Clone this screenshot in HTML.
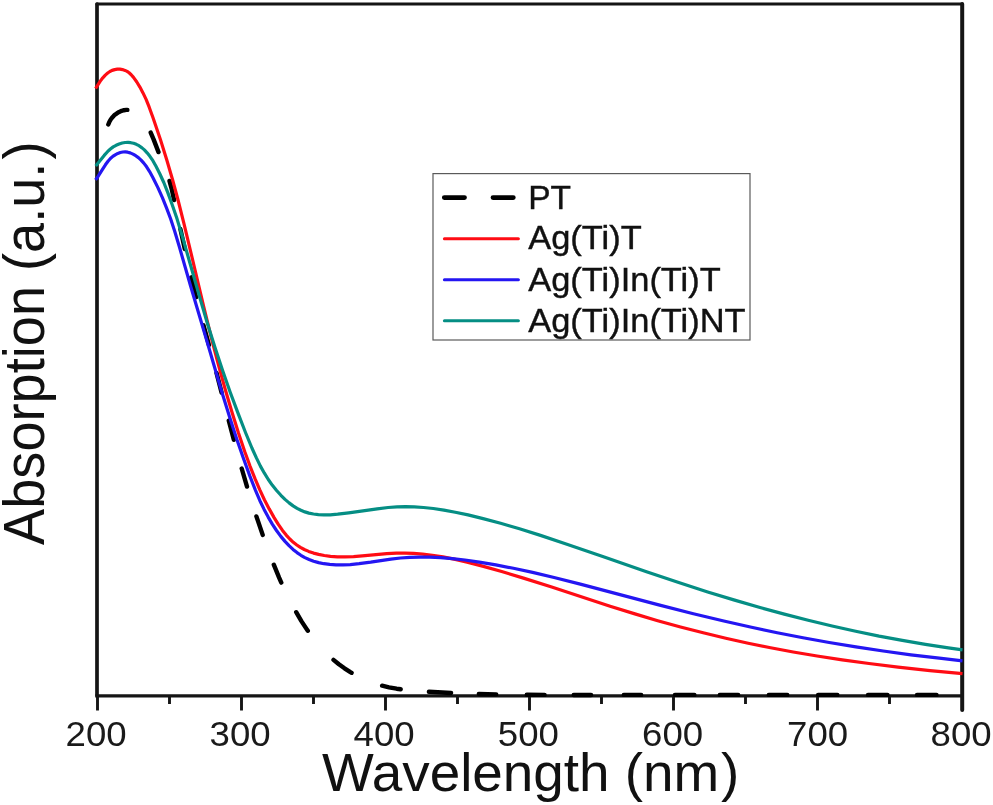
<!DOCTYPE html>
<html lang="en"><head><meta charset="utf-8"><title>UV-vis absorption spectra</title>
<style>html,body{margin:0;padding:0;background:#fff}body{width:993px;height:805px;overflow:hidden}svg{display:block;filter:blur(0.65px)}</style></head>
<body>
<svg width="993" height="805" viewBox="0 0 993 805">
<rect width="993" height="805" fill="#fff"/>
<path d="M97.0,695.8 L97.0,4" fill="none" stroke="#151515" stroke-width="3.7" stroke-linecap="round"/>
<path d="M97.0,4 L962,4" fill="none" stroke="#151515" stroke-width="3.1" stroke-linecap="round"/>
<path d="M962.2,4 L962.2,710" fill="none" stroke="#151515" stroke-width="4" stroke-linecap="round"/>
<path d="M95.4,695.8 L962,695.8" fill="none" stroke="#151515" stroke-width="3.2"/>
<path d="M97.5,695.8 V710.5 M169.5,695.8 V704 M241.5,695.8 V710.5 M313.5,695.8 V704 M385.5,695.8 V710.5 M457.5,695.8 V704 M529.5,695.8 V710.5 M601.5,695.8 V704 M673.5,695.8 V710.5 M745.5,695.8 V704 M817.5,695.8 V710.5 M889.5,695.8 V704" stroke="#151515" stroke-width="2.9" fill="none"/>
<path d="M108.3,124.5 L109.3,122.0 L110.7,119.5 L112.5,117.2 L114.5,115.1 L116.8,113.4 L119.2,111.9 L121.7,110.8 L124.0,110.2 L126.4,109.9 L127.4,109.9 M150.7,132.6 L153.6,139.4 L158.5,152.1 M169.5,180.9 L171.6,188.6 L174.1,200.1 M180.4,229.1 L184.8,249.0 M191.3,277.3 L196.1,297.2 M203.5,325.3 L208.9,344.9 M216.5,372.9 L221.6,392.6 M228.8,420.6 L233.8,439.8 M241.7,468.5 L247.0,486.6 M256.4,516.4 L262.7,534.9 M273.8,564.7 L279.1,577.6 L281.3,582.6 M296.2,612.2 L301.4,621.1 L306.5,628.9 L307.8,630.8 M333.5,659.9 L338.9,664.3 L344.5,668.3 L350.4,672.1 L351.6,672.8 M382.1,685.7 L389.0,687.3 L396.6,688.7 L400.7,689.3 M428.9,691.8 L451.1,693.0 M478.8,694.0 L496.2,694.4 M526.8,694.8 L544.6,694.9 M573.7,695.0 L591.1,695.0 M623.8,694.9 L641.2,694.9 M674.9,694.9 L694.4,694.9 M719.8,694.9 L738.2,694.9 M768.8,694.9 L787.3,694.9 M818.1,694.9 L837.4,694.9 M868.0,694.9 L887.5,694.9 M917.0,694.9 L936.5,694.9" fill="none" stroke="#000" stroke-width="4.4" stroke-linecap="round" stroke-linejoin="round"/>
<path d="M95.6,88.5 L100.1,81.4 L102.8,77.8 L105.3,75.1 L107.7,73.0 L109.9,71.5 L112.1,70.4 L114.7,69.6 L117.3,69.2 L119.9,69.2 L122.5,69.6 L125.0,70.4 L127.1,71.4 L129.1,72.8 L131.2,74.7 L133.5,77.4 L136.8,82.0 L139.9,87.1 L143.0,92.9 L146.1,99.4 L149.2,107.2 L153.2,118.2 L160.4,139.6 L166.8,160.0 L172.5,179.5 L177.9,199.5 L183.9,223.4 L192.5,259.3 L203.7,306.7 L211.6,338.8 L218.7,365.8 L225.4,390.0 L232.0,412.2 L238.4,432.7 L244.8,451.7 L250.1,466.3 L255.0,478.7 L259.7,489.6 L264.4,499.7 L269.2,508.9 L274.1,517.6 L278.5,524.7 L282.5,530.4 L286.2,535.1 L289.8,539.0 L293.3,542.3 L296.8,545.0 L300.4,547.4 L304.3,549.5 L308.7,551.4 L313.5,553.1 L318.6,554.4 L324.3,555.5 L330.5,556.3 L337.4,556.8 L344.9,556.9 L353.6,556.6 L365.1,555.7 L386.8,553.7 L396.4,553.2 L404.7,553.1 L413.5,553.4 L422.6,554.1 L432.3,555.3 L442.9,556.9 L454.2,559.1 L467.1,562.1 L482.5,566.1 L501.7,571.5 L523.5,578.1 L551.7,587.1 L610.1,606.2 L634.9,613.9 L657.7,620.7 L680.5,627.0 L703.2,632.8 L725.8,638.3 L748.2,643.3 L770.6,647.8 L793.2,652.0 L817.1,656.0 L842.2,659.9 L869.0,663.5 L898.0,667.1 L930.0,670.6 L962.5,673.7" fill="none" stroke="#ff0c14" stroke-width="3.2" stroke-linejoin="round"/>
<path d="M95.5,179.9 L97.9,176.7 L101.7,170.6 L105.4,164.8 L108.0,161.2 L110.4,158.5 L112.8,156.4 L115.2,154.8 L117.8,153.4 L120.3,152.5 L122.8,152.0 L125.2,151.9 L127.6,152.2 L130.2,152.9 L133.0,154.1 L135.7,155.7 L138.4,157.6 L141.1,160.1 L143.8,163.1 L146.6,166.8 L149.6,171.6 L153.1,178.0 L157.9,187.6 L162.4,197.6 L166.5,207.9 L170.6,218.8 L174.7,231.3 L179.5,247.3 L190.8,286.8 L205.8,337.3 L221.3,390.2 L229.6,417.0 L236.7,439.0 L243.4,458.3 L249.8,475.9 L255.5,490.3 L259.9,500.7 L264.1,509.4 L268.2,517.1 L272.3,524.1 L276.5,530.5 L280.8,536.4 L285.0,541.4 L289.0,545.7 L293.0,549.4 L297.0,552.6 L300.9,555.3 L304.9,557.6 L309.1,559.5 L313.6,561.2 L318.6,562.6 L323.9,563.7 L329.7,564.4 L336.0,564.9 L342.9,564.9 L350.3,564.6 L359.1,563.7 L370.7,562.2 L390.9,559.1 L400.5,558.0 L409.8,557.4 L419.5,557.1 L429.7,557.1 L440.6,557.6 L452.2,558.6 L465.0,560.0 L479.3,562.1 L495.8,564.9 L513.4,568.3 L532.6,572.4 L554.1,577.5 L580.3,584.1 L658.7,604.9 L693.4,613.7 L723.8,621.0 L751.5,627.3 L777.2,632.7 L803.0,637.8 L829.2,642.5 L855.9,646.9 L883.2,651.0 L910.9,654.8 L939.3,658.2 L962.5,660.8" fill="none" stroke="#2416f2" stroke-width="3.2" stroke-linejoin="round"/>
<path d="M95.7,165.9 L104.2,155.4 L107.5,151.7 L110.4,149.0 L113.2,146.9 L116.1,145.3 L119.1,144.0 L122.2,143.0 L125.1,142.5 L128.0,142.4 L130.8,142.7 L133.6,143.3 L136.3,144.3 L139.0,145.7 L141.7,147.6 L144.4,149.9 L147.1,152.8 L149.9,156.3 L152.9,160.7 L156.0,166.3 L159.9,174.0 L163.8,182.5 L167.8,192.6 L172.3,205.0 L177.1,219.1 L182.3,236.2 L189.5,261.5 L199.3,295.8 L207.2,322.7 L215.0,347.4 L222.6,370.5 L230.2,392.2 L237.9,412.9 L245.5,432.5 L251.9,448.0 L256.4,457.9 L260.4,466.1 L264.4,473.2 L268.3,479.5 L272.4,485.3 L276.6,490.5 L280.9,495.3 L285.0,499.4 L289.1,502.9 L293.1,505.9 L297.1,508.4 L300.9,510.3 L304.9,511.9 L308.9,513.1 L313.5,514.0 L318.4,514.6 L323.9,514.9 L330.2,514.8 L337.7,514.2 L348.7,512.8 L377.2,508.8 L388.1,507.5 L397.0,506.9 L405.5,506.7 L414.3,506.9 L423.5,507.5 L433.3,508.5 L443.9,510.1 L455.3,512.2 L468.0,514.9 L483.1,518.6 L500.6,523.3 L519.5,528.8 L540.5,535.4 L565.4,543.7 L604.2,557.1 L646.5,571.8 L678.7,582.6 L707.7,591.9 L734.6,600.1 L760.0,607.5 L784.3,614.1 L808.2,620.3 L832.1,626.0 L855.7,631.2 L879.1,636.1 L902.3,640.4 L925.4,644.3 L948.4,647.9 L962.5,649.8" fill="none" stroke="#058e84" stroke-width="3.2" stroke-linejoin="round"/>
<text transform="translate(96.1,746.4) scale(1.04,1)" font-family="Liberation Sans, Arial, Helvetica, sans-serif" font-size="35.2" text-anchor="middle" fill="#1a1a1a">200</text>
<text transform="translate(240.1,746.4) scale(1.04,1)" font-family="Liberation Sans, Arial, Helvetica, sans-serif" font-size="35.2" text-anchor="middle" fill="#1a1a1a">300</text>
<text transform="translate(384.1,746.4) scale(1.04,1)" font-family="Liberation Sans, Arial, Helvetica, sans-serif" font-size="35.2" text-anchor="middle" fill="#1a1a1a">400</text>
<text transform="translate(528.4,746.4) scale(1.04,1)" font-family="Liberation Sans, Arial, Helvetica, sans-serif" font-size="35.2" text-anchor="middle" fill="#1a1a1a">500</text>
<text transform="translate(672.6,746.4) scale(1.04,1)" font-family="Liberation Sans, Arial, Helvetica, sans-serif" font-size="35.2" text-anchor="middle" fill="#1a1a1a">600</text>
<text transform="translate(817.6,746.4) scale(1.04,1)" font-family="Liberation Sans, Arial, Helvetica, sans-serif" font-size="35.2" text-anchor="middle" fill="#1a1a1a">700</text>
<text transform="translate(961.1,746.4) scale(1.04,1)" font-family="Liberation Sans, Arial, Helvetica, sans-serif" font-size="35.2" text-anchor="middle" fill="#1a1a1a">800</text>
<text transform="translate(530.7,790.6) scale(1.031,1)" font-family="Liberation Sans, Arial, Helvetica, sans-serif" font-size="53.2" text-anchor="middle" fill="#111">Wavelength (nm<tspan dx="1.8">)</tspan></text>
<text transform="translate(44.4,544.9) rotate(-90) scale(1.003,1.05)" font-family="Liberation Sans, Arial, Helvetica, sans-serif" font-size="54" text-anchor="start" fill="#111">Absorption (a.u.<tspan dx="3.2">)</tspan></text>
<rect x="433" y="173.6" width="317" height="166.4" fill="#fff" stroke="#5a5a5a" stroke-width="1.2"/>
<path d="M444.3,197.6 H464.5 M493,197.6 H513.3" stroke="#000" stroke-width="4.8" stroke-linecap="round"/>
<path d="M444.4,238.8 H518.4" stroke="#ff0c14" stroke-width="3" stroke-linecap="round"/>
<path d="M444.4,279.7 H518.4" stroke="#2416f2" stroke-width="3" stroke-linecap="round"/>
<path d="M444.4,320.8 H518.4" stroke="#058e84" stroke-width="3" stroke-linecap="round"/>
<text transform="translate(528.2,208.8) scale(1.0,1)" font-family="Liberation Sans, Arial, Helvetica, sans-serif" font-size="33.5" fill="#111" stroke="#111" stroke-width="0.4">PT</text>
<text transform="translate(528.2,249.3) scale(1.028,1)" font-family="Liberation Sans, Arial, Helvetica, sans-serif" font-size="33.5" fill="#111" stroke="#111" stroke-width="0.4">Ag(Ti)T</text>
<text transform="translate(528.2,290.6) scale(1.028,1)" font-family="Liberation Sans, Arial, Helvetica, sans-serif" font-size="33.5" fill="#111" stroke="#111" stroke-width="0.4">Ag(Ti)In(Ti)T</text>
<text transform="translate(528.2,332.1) scale(1.028,1)" font-family="Liberation Sans, Arial, Helvetica, sans-serif" font-size="33.5" fill="#111" stroke="#111" stroke-width="0.4">Ag(Ti)In(Ti)NT</text>
</svg>
</body></html>
